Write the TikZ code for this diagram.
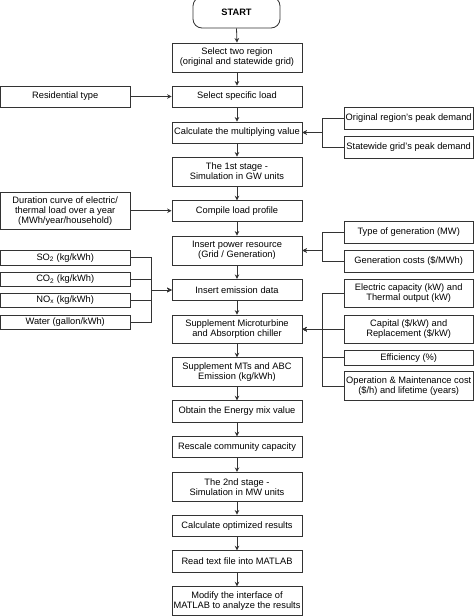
\documentclass[tikz,border=0pt]{standalone}
\usepackage{fontspec}
\setmainfont{Liberation Sans}
\usetikzlibrary{arrows.meta}
\begin{document}
\begin{tikzpicture}[x=1pt,y=-1pt,
  box/.style={draw=black!80, line width=0.8pt, fill=white, inner sep=1pt, align=center,
    font=\fontsize{9.3}{10}\selectfont},
  mbox/.style={box, minimum width=130pt, minimum height=#1},
  sbox/.style={box, minimum width=129.5pt, minimum height=#1},
  startbox/.style={box, rounded corners=9pt, minimum width=87pt, minimum height=31pt, font=\fontsize{9.3}{10}\selectfont\bfseries},
  line/.style={draw=black!80, line width=0.8pt},
  arr/.style={line, -{Stealth[length=4.5pt,width=4.5pt]}}
]
\useasboundingbox (0,0) rectangle (474,616);

% main column
\node[startbox] (s) at (236.5,12.5) {START};
\node[mbox=29pt] (b1) at (237,57.5) {Select two region\\(original and statewide grid)};
\node[mbox=21pt] (b2) at (237,96.5) {Select specific load};
\node[mbox=21pt] (b3) at (237,132.5) {Calculate the multiplying value};
\node[mbox=29pt] (b4) at (237,171.5) {The 1st stage -\\Simulation in GW units};
\node[mbox=21pt] (b5) at (237,211.2) {Compile load profile};
\node[mbox=29pt] (b6) at (237,250.5) {Insert power resource\\(Grid / Generation)};
\node[mbox=21.4pt] (b7) at (237,290) {Insert emission data};
\node[mbox=28.3pt] (b8) at (237,329.2) {Supplement Microturbine\\and Absorption chiller};
\node[mbox=29pt] (b9) at (237,372.2) {Supplement MTs and ABC\\Emission (kg/kWh)};
\node[mbox=21.6pt] (b10) at (237,411.5) {Obtain the Energy mix value};
\node[mbox=21pt] (b11) at (237,447.2) {Rescale community capacity};
\node[mbox=28.7pt] (b12) at (237,486.7) {The 2nd stage -\\Simulation in MW units};
\node[mbox=21.7pt] (b13) at (237,525.8) {Calculate optimized results};
\node[mbox=21.6pt] (b14) at (237,561.5) {Read text file into MATLAB};
\node[mbox=29pt] (b15) at (237,601.2) {Modify the interface of\\MATLAB to analyze the results};

\foreach \a/\b in {s/b1,b1/b2,b2/b3,b3/b4,b4/b5,b5/b6,b6/b7,b7/b8,b8/b9,b9/b10,b10/b11,b11/b12,b12/b13,b13/b14,b14/b15}
  \draw[arr] (\a.south) -- (\b.north);

% left inputs
\node[sbox=21pt] (res) at (65.2,96.5) {Residential type};
\node[sbox=36.3pt] (dur) at (65.2,210.8) {Duration curve of electric/\\thermal load over a year\\(MWh/year/household)};
\node[sbox=14.3pt] (so2) at (65.2,257.8) {SO\textsubscript{2} (kg/kWh)};
\node[sbox=14.7pt] (co2) at (65.2,279.3) {CO\textsubscript{2} (kg/kWh)};
\node[sbox=14pt] (nox) at (65.2,300.3) {NO\textsubscript{x} (kg/kWh)};
\node[sbox=14.3pt] (wat) at (65.2,322.2) {Water (gallon/kWh)};

\draw[arr] (res.east) -- (b2.west);
\draw[arr] (dur.east) -- (dur.east -| b5.west);
\foreach \n in {so2,co2,nox,wat}
  \draw[arr] (\n.east) -- ++(20.7,0) |- (b7.west);

% right inputs
\node[sbox=22pt] (orig) at (408.7,118) {Original region's peak demand};
\node[sbox=22pt] (state) at (408.7,147) {Statewide grid's peak demand};
\node[sbox=21.6pt] (type) at (408.7,232.5) {Type of generation (MW)};
\node[sbox=21.3pt] (cost) at (408.7,261.3) {Generation costs (\$/MWh)};
\node[sbox=28pt] (elec) at (408.7,293.3) {Electric capacity (kW) and\\Thermal output (kW)};
\node[sbox=28.3pt] (cap) at (408.7,329.2) {Capital (\$/kW) and\\Replacement (\$/kW)};
\node[sbox=14.3pt] (eff) at (408.7,357.8) {Efficiency (\%)};
\node[sbox=29pt] (om) at (408.7,386.2) {Operation \& Maintenance cost\\(\$/h) and lifetime (years)};

\foreach \n in {orig,state}
  \draw[arr] (\n.west) -- ++(-21.3,0) |- (b3.east);
\foreach \n in {type,cost}
  \draw[arr] (\n.west) -- ++(-21.3,0) |- (b6.east);
\foreach \n in {elec,cap,eff,om}
  \draw[arr] (\n.west) -- ++(-21.3,0) |- (b8.east);
\end{tikzpicture}
\end{document}
